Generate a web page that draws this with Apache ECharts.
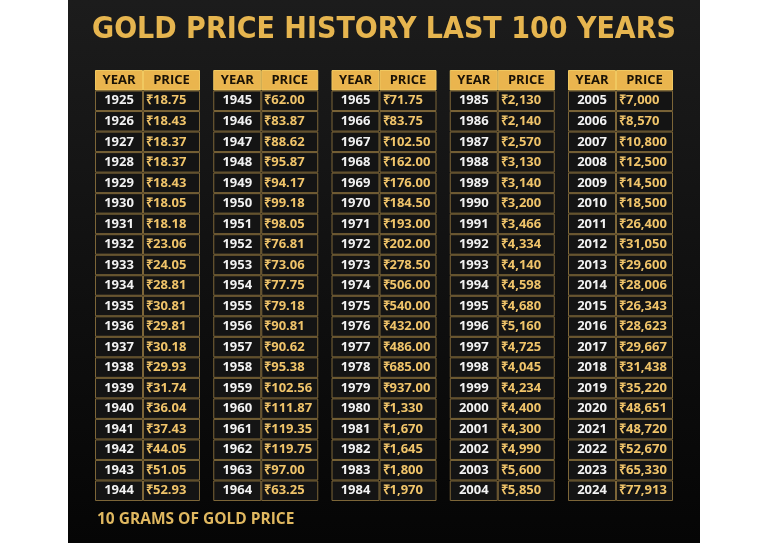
<!DOCTYPE html>
<html><head><meta charset="utf-8">
<script src="https://cdn.jsdelivr.net/npm/echarts@6/dist/echarts.min.js"></script>
<style>html,body{margin:0;background:#fff}#c{width:768px;height:543px}</style>
</head><body><div id="c"></div>
<script>
const title = 'GOLD PRICE HISTORY LAST 100 YEARS';
const footer = '10 GRAMS OF GOLD PRICE';
const headers = ['YEAR', 'PRICE'];
const startYears = [1925, 1945, 1965, 1985, 2005];
const prices1 = ['18.75','18.43','18.37','18.37','18.43','18.05','18.18','23.06','24.05','28.81','30.81','29.81','30.18','29.93','31.74','36.04','37.43','44.05','51.05','52.93'];
const prices2 = ['62.00','83.87','88.62','95.87','94.17','99.18','98.05','76.81','73.06','77.75','79.18','90.81','90.62','95.38','102.56','111.87','119.35','119.75','97.00','63.25'];
const prices3 = ['71.75','83.75','102.50','162.00','176.00','184.50','193.00','202.00','278.50','506.00','540.00','432.00','486.00','685.00','937.00','1,330','1,670','1,645','1,800','1,970'];
const prices4 = ['2,130','2,140','2,570','3,130','3,140','3,200','3,466','4,334','4,140','4,598','4,680','5,160','4,725','4,045','4,234','4,400','4,300','4,990','5,600','5,850'];
const prices5 = ['7,000','8,570','10,800','12,500','14,500','18,500','26,400','31,050','29,600','28,006','26,343','28,623','29,667','31,438','35,220','48,651','48,720','52,670','65,330','77,913'];
const groups = [prices1, prices2, prices3, prices4, prices5];

const GW = 118.25, YW = 48, PW = 57;
const cells = [];
groups.forEach((arr, g) => {
  const x0 = g * GW;
  cells.push([x0, x0 + YW, 0, headers[0], 'h']);
  cells.push([x0 + YW, x0 + YW + PW, 0, headers[1], 'h']);
  arr.forEach((p, i) => {
    cells.push([x0, x0 + YW, i + 1, String(startYears[g] + i), 'y']);
    cells.push([x0 + YW, x0 + YW + PW, i + 1, '₹' + p, 'p']);
  });
});
const chart = echarts.init(document.getElementById('c'));
chart.setOption({
  backgroundColor: '#ffffff',
  graphic: [
    {type:'rect', shape:{x:68,y:0,width:632,height:543}, style:{fill:new echarts.graphic.LinearGradient(0,0,0,1,[{offset:0,color:'#1c1c1c'},{offset:1,color:'#050505'}])}, z:-10},
    {type:'text', x:384, y:30, style:{text:title, textAlign:'center', textVerticalAlign:'middle', font:'bold 30px "DejaVu Sans Condensed","DejaVu Sans",sans-serif', fill:'#e6b54f'}},
    {type:'text', x:97, y:520, style:{text:footer, textVerticalAlign:'middle', font:'bold 15.5px "Open Sans",sans-serif', fill:'#e0b860'}}
  ],
  grid: {left:95, right:95, top:70, bottom:42},
  xAxis: {type:'value', min:0, max:578, show:false},
  yAxis: {type:'value', min:0, max:21, inverse:true, show:false},
  series: [{
    type:'custom',
    data: cells,
    renderItem: (params, api) => {
      const a = api.coord([api.value(0), api.value(2)]);
      const b = api.coord([api.value(1), api.value(2) + 1]);
      const t = cells[params.dataIndex][4];
      const txt = cells[params.dataIndex][3];
      const w = b[0]-a[0], h = b[1]-a[1];
      const isH = t === 'h';
      return {type:'group', children:[
        {type:'rect', shape:{x:a[0]+0.5, y:a[1]+0.5, width:w-1, height:h-1},
         style:{fill: isH ? '#eab54e' : '#141414', stroke: isH ? '#f0c860' : '#7d6638', lineWidth:1}},
        {type:'text', x: t==='p' ? a[0]+3 : a[0]+w/2, y:a[1]+h/2,
         style:{text:txt, textAlign: t==='p' ? 'left' : 'center', textVerticalAlign:'middle',
          font:'bold 13px "Open Sans",sans-serif',
          fill: isH ? '#1a1206' : (t==='y' ? '#f2f2f2' : '#f0c46a')}}
      ]};
    }
  }]
});
</script></body></html>
